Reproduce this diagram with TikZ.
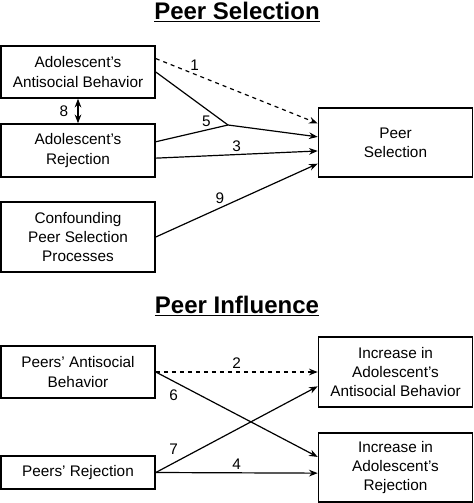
\documentclass[tikz,border=0pt]{standalone}
\usepackage{fontspec}
\setmainfont{Liberation Sans}
\usetikzlibrary{positioning,calc,arrows.meta}

\begin{document}
\begin{tikzpicture}[x=0.75pt, y=-0.75pt, box/.style={draw, line width=1.2pt, minimum width=115.5pt, align=center, inner sep=2pt, font=\fontsize{11.5}{14.5}\selectfont}, heading/.style={font=\fontsize{18}{21}\selectfont\bfseries}, arrow/.style={-{Stealth[length=6.5pt,width=5pt]}, line width=0.9pt}, num/.style={font=\fontsize{11.5}{14}\selectfont, inner sep=2pt}]
\useasboundingbox (0,0) rectangle (474,503);
% peer selection
\node[heading] (tsel) at (237,12) {\underline{Peer Selection}};
\node[box, minimum height=39pt] (asb) at (78,72) {Adolescent's\\Antisocial Behavior};
\node[box, minimum height=39.75pt] (rej) at (78,150.5) {Adolescent's\\Rejection};
\node[box, minimum height=52.5pt] (conf) at (78,237) {Confounding\\Peer Selection\\Processes};
\node[box, minimum height=51.75pt] (psel) at (395.5,142.5) {Peer\\Selection};
\coordinate (join) at (228,125);
\draw[arrow, dashed] ($(asb.north east)!.25!(asb.south east)$) -- ($(psel.north west)!.23!(psel.south west)$) node[num, pos=.24, above] {1};
\draw[line width=0.9pt] (asb.east) -- (join);
\draw[line width=0.9pt] ($(rej.north east)!.34!(rej.south east)$) -- (join) node[num, pos=.7, above] {5};
\draw[arrow] (join) -- ($(psel.north west)!.42!(psel.south west)$);
\draw[arrow] ($(rej.north east)!.64!(rej.south east)$) -- ($(psel.north west)!.62!(psel.south west)$) node[num, midway, above] {3};
\draw[arrow] (conf.east) -- ($(psel.north west)!.8!(psel.south west)$) node[num, pos=.41, above left=0pt and -4pt] {9};
\draw[{Stealth[length=6.5pt,width=5pt]}-{Stealth[length=6.5pt,width=5pt]}, line width=0.9pt] (asb.south) -- (rej.north) node[num, midway, left=5pt] {8};
% peer influence
\node[heading] (tinf) at (237,306) {\underline{Peer Influence}};
\node[box, minimum height=39pt] (pasb) at (78,372) {Peers' Antisocial\\Behavior};
\node[box, minimum height=24.75pt] (prej) at (78,472.5) {Peers' Rejection};
\node[box, minimum height=52.5pt] (incasb) at (395.5,372) {Increase in\\Adolescent's\\Antisocial Behavior};
\node[box, minimum height=51.75pt] (increj) at (395.5,467.5) {Increase in\\Adolescent's\\Rejection};
\draw[arrow, dashed] (pasb.east) -- (incasb.west) node[num, midway, above] {2};
\draw[arrow] (pasb.east) -- ($(increj.north west)!.35!(increj.south west)$) node[num, pos=.11, below=4pt] {6};
\draw[arrow] (prej.east) -- ($(incasb.north west)!.7!(incasb.south west)$) node[num, pos=.11, above=4pt] {7};
\draw[arrow] (prej.east) -- ($(increj.north west)!.58!(increj.south west)$) node[num, midway, above] {4};
\end{tikzpicture}
\end{document}
